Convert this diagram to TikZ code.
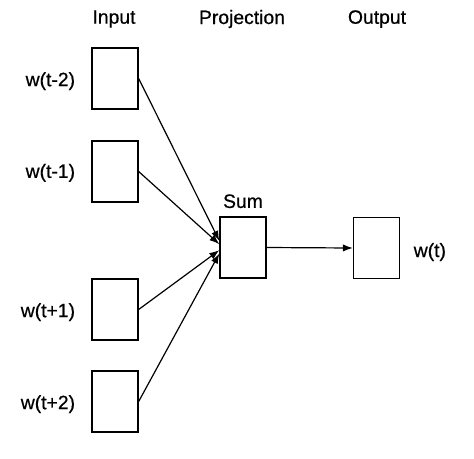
\documentclass[tikz,border=0pt]{standalone}
\usepackage{fontspec}
\setmainfont{Liberation Sans}
\usetikzlibrary{positioning,arrows.meta}
\tikzset{
    unitbox/.style={rectangle,draw=black,line width=1pt,minimum width=34.5pt,minimum height=45.75pt,inner sep=0pt},
    wire/.style={line width=0.9pt,-{Latex[length=7.5pt,width=5.5pt]}},
    lbl/.style={font=\fontsize{14.5}{16}\selectfont\addfontfeature{FakeBold=0.6},inner sep=0pt}
}
\begin{document}
\begin{tikzpicture}[x=0.75pt,y=-0.75pt]
\useasboundingbox (0,0) rectangle (474,458);

% column titles
\node[lbl] (tin) at (114,19) {Input};
\node[lbl] (tproj) at (242,19) {Projection};
\node[lbl] (tout) at (377,19) {Output};

% boxes
\node[unitbox] (in2) at (115,78.5) {};
\node[unitbox] (in1) at (115,171.5) {};
\node[unitbox] (ip1) at (115,309.5) {};
\node[unitbox] (ip2) at (115,401.5) {};
\node[unitbox] (sum) at (243,247.5) {};
\node[unitbox] (out) at (376.5,248) {};

% labels
\node[lbl,left=12pt of in2,yshift=-2pt] (lin2) {w(t-2)};
\node[lbl,left=12pt of in1,yshift=-1pt] (lin1) {w(t-1)};
\node[lbl,left=12pt of ip1,yshift=-2pt] (lip1) {w(t+1)};
\node[lbl,left=12pt of ip2,yshift=-2pt] (lip2) {w(t+2)};
\node[lbl,above=6pt of sum] (lsum) {Sum};
\node[lbl,right=10pt of out,yshift=-3pt] (lout) {w(t)};

% connections
\draw[wire] (in2.east) -- ([yshift=5pt]sum.west);
\draw[wire] (in1.east) -- ([yshift=2.5pt]sum.west);
\draw[wire] (ip1.east) -- ([yshift=-2pt]sum.west);
\draw[wire] (ip2.east) -- ([yshift=-4.5pt]sum.west);
\draw[wire] (sum.east) -- (out.west);
\end{tikzpicture}
\end{document}
